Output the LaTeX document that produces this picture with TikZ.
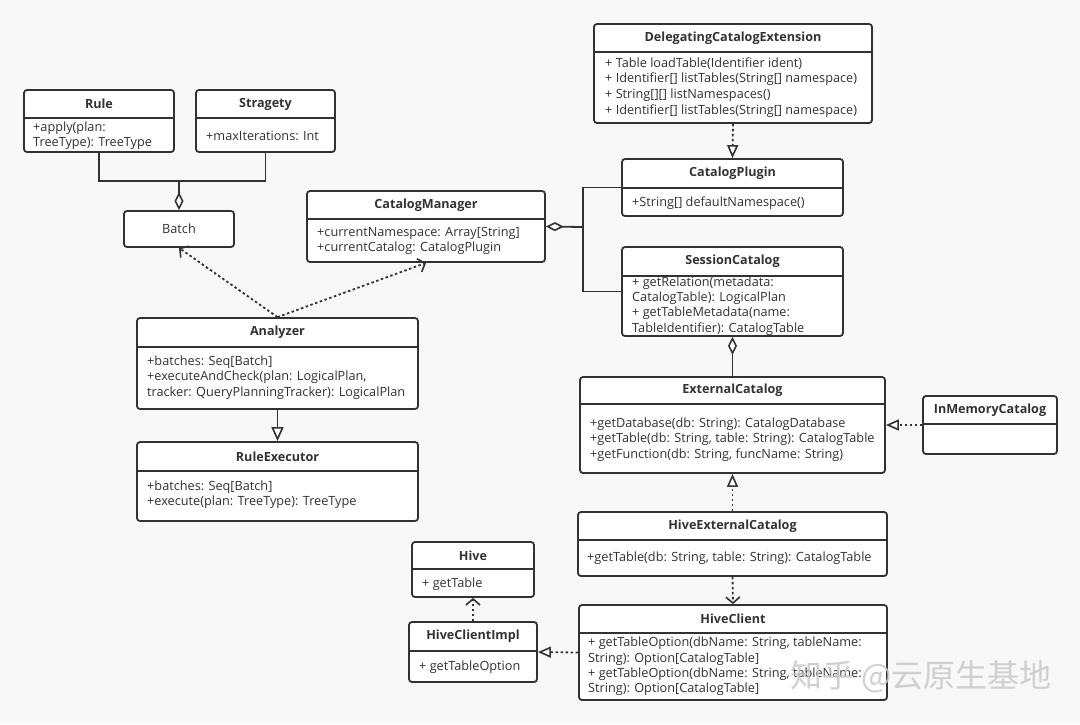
\documentclass[tikz,border=0pt]{standalone}
\usepackage{fontspec}
\setmainfont{Open Sans}
\newfontfamily\cjkfont{Noto Sans CJK SC}
\usetikzlibrary{arrows.meta}
\definecolor{bg}{RGB}{248,248,248}
\definecolor{ink}{RGB}{50,50,50}
\definecolor{wmgray}{RGB}{200,200,200}
\tikzset{
  cls/.style={draw=ink, line width=1.8pt, fill=white, rounded corners=3pt, inner sep=0pt},
  divline/.style={draw=ink, line width=1.8pt},
  ttl/.style={font=\bfseries\fontsize{12.6}{14}\selectfont, text=ink, inner sep=0pt},
  body/.style={anchor=west, align=left, inner sep=0pt, font=\fontsize{12.7}{15.3}\selectfont, text=ink},
  ln/.style={draw=ink, line width=1.8pt},
  dotln/.style={ln, dash pattern=on 2.5pt off 2.5pt},
  realize/.style={dotln, -{Triangle[open, length=13pt, width=11pt, line width=1.6pt, fill=white]}},
  inherit/.style={ln, -{Triangle[open, length=14pt, width=12pt, line width=1.6pt, fill=white]}},
  depend/.style={dotln, -{Straight Barb[length=6pt, width=14pt, line width=1.6pt]}},
  aggr/.style={ln, -{Diamond[open, length=18pt, width=9pt, line width=1.6pt, fill=white]}}
}
\newcommand\umlcls[7]{%
  \node[cls, minimum width={(#4-#2)*1pt}, minimum height={(#5-#3)*1pt}] (#1) at ({(#2+#4)/2},{(#3+#5)/2}) {};
  \draw[divline] (#2,#6) -- (#4,#6);
  \node[ttl] (#1t) at ({(#2+#4)/2},{(#3+#6)/2}) {#7};
}
\begin{document}
\begin{tikzpicture}[x=1pt,y=-1pt]
\fill[bg] (0,0) rectangle (1080,724);
\useasboundingbox (0,0) rectangle (1080,724);

% classes
\umlcls{rule}{24}{90}{174}{152}{118}{Rule}
\node[body] (ruleb) at (33,135.5) {+apply(plan:\\TreeType): TreeType};
\umlcls{strag}{196}{90}{335}{152}{118}{Stragety}
\node[body] (stragb) at (206,136) {+maxIterations: Int};
\node[cls, minimum width=110pt, minimum height=36pt, font=\fontsize{12.7}{14}\selectfont, text=ink] (batch) at (179,229) {Batch};

\umlcls{catman}{307}{191}{545}{262}{219}{CatalogManager}
\node[body] (catmanb) at (317,241) {+currentNamespace: Array[String]\\+currentCatalog: CatalogPlugin};

\umlcls{deleg}{594}{24}{872}{123}{52}{DelegatingCatalogExtension}
\node[body, font=\fontsize{12.7}{15.7}\selectfont] (delegb) at (605,87.5) {+ Table loadTable(Identifier ident)\\+ Identifier[] listTables(String[] namespace)\\+ String[][] listNamespaces()\\+ Identifier[] listTables(String[] namespace)};

\umlcls{catplug}{622}{159}{843}{216}{188}{CatalogPlugin}
\node[body] (catplugb) at (632,203) {+String[] defaultNamespace()};

\umlcls{sess}{622}{247}{843}{336}{276}{SessionCatalog}
\node[body] (sessb) at (632,306) {+ getRelation(metadata:\\CatalogTable): LogicalPlan\\+ getTableMetadata(name:\\TableIdentifier): CatalogTable};

\umlcls{analyzer}{137}{318}{418}{409}{347}{Analyzer}
\node[body] (analyzerb) at (147,377.5) {+batches: Seq[Batch]\\+executeAndCheck(plan: LogicalPlan,\\tracker: QueryPlanningTracker): LogicalPlan};

\umlcls{ruleexec}{137}{442}{418}{521}{471}{RuleExecutor}
\node[body] (ruleexecb) at (147,495) {+batches: Seq[Batch]\\+execute(plan: TreeType): TreeType};

\umlcls{extcat}{580}{377}{885}{473}{404}{ExternalCatalog}
\node[body] (extcatb) at (590,439.5) {+getDatabase(db: String): CatalogDatabase\\+getTable(db: String, table: String): CatalogTable\\+getFunction(db: String, funcName: String)};

\umlcls{inmem}{923}{396}{1057}{454}{424}{InMemoryCatalog}

\umlcls{hiveext}{578}{512}{887}{576}{540}{HiveExternalCatalog}
\node[body] (hiveextb) at (587,558) {+getTable(db: String, table: String): CatalogTable};

\umlcls{hiveclient}{579}{605}{887}{700}{633}{HiveClient}
\node[body] (hiveclientb) at (588,666.5) {+ getTableOption(dbName: String, tableName:\\String): Option[CatalogTable]\\+ getTableOption(dbName: String, tableName:\\String): Option[CatalogTable]};

\umlcls{hive}{412}{542}{534}{597}{569}{Hive}
\node[body] (hiveb) at (422,584) {+ getTable};

\umlcls{hci}{409}{622}{537}{682}{651}{HiveClientImpl}
\node[body] (hcib) at (419,667) {+ getTableOption};

% connectors
\coordinate (j1) at (179,181);
\draw[ln] (rule.south) |- (j1) -| (strag.south);
\draw[aggr] (j1) -- (batch.north);

\coordinate (j2) at (583,227);
\draw[ln] (catplug.west) -| (j2) |- (sess.west);
\draw[aggr] (j2) -- (catman.east);

\draw[realize] (deleg.south) -- (catplug.north);
\draw[depend] (analyzer.north) -- (batch.south);
\draw[depend] (analyzer.north) -- (catman.south);
\draw[inherit] (analyzer.south) -- (ruleexec.north);
\draw[aggr] (extcat.north) -- (sess.south);
\draw[realize] (inmem.west) -- (extcat.east);
\draw[realize] (hiveext.north) -- (extcat.south);
\draw[depend] (hiveext.south) -- (hiveclient.north);
\draw[depend] (hci.north) -- (hive.south);
\draw[realize] (hiveclient.west) -- (hci.east);

% watermark
\node[font=\cjkfont\fontsize{32}{34}\selectfont, text=wmgray, opacity=0.85, inner sep=0pt] (wm) at (921,677) {知乎 @云原生基地};
\end{tikzpicture}
\end{document}
